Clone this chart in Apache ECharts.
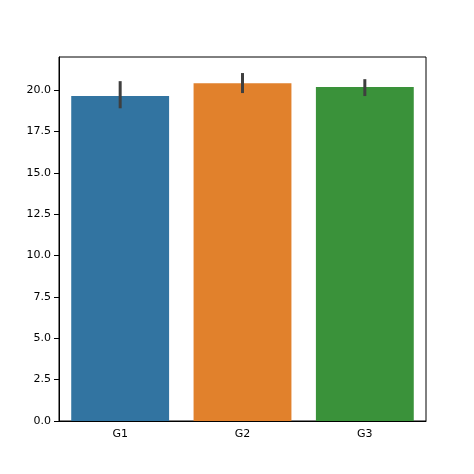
<!DOCTYPE html>
<html>
<head>
<meta charset="utf-8">
<script src="https://cdn.jsdelivr.net/npm/echarts@6/dist/echarts.min.js"></script>
<style>html,body{margin:0;padding:0;background:#fff}#main{width:474px;height:474px}</style>
</head>
<body>
<div id="main"></div>
<script>
var categories = ['G1', 'G2', 'G3'];
var means = [19.65, 20.42, 20.18];
var errLow = [18.9, 19.82, 19.64];
var errHigh = [20.54, 21.03, 20.66];
var colors = ['#3274a1', '#e1812c', '#3a923a'];

var myChart = echarts.init(document.getElementById('main'));
var font = 'DejaVu Sans';
var option = {
  animation: false,
  grid: { left: 59, right: 48, top: 57, bottom: 53, show: true, borderColor: '#000', borderWidth: 1 },
  xAxis: {
    type: 'category', data: categories,
    axisLine: { lineStyle: { color: '#000' } },
    axisTick: { alignWithLabel: true, lineStyle: { color: '#000' } },
    axisLabel: { color: '#000', fontFamily: font, fontSize: 11 }
  },
  yAxis: {
    type: 'value', min: 0, max: 22, interval: 2.5,
    splitLine: { show: false },
    axisLine: { show: true, lineStyle: { color: '#000' } },
    axisTick: { show: true, lineStyle: { color: '#000' } },
    axisLabel: { color: '#000', fontFamily: font, fontSize: 11, showMaxLabel: false,
      formatter: function (v) { return v % 2.5 === 0 ? v.toFixed(1) : ''; } }
  },
  series: [{
    type: 'bar', barWidth: '80%',
    data: means.map(function (v, i) { return { value: v, itemStyle: { color: colors[i] } }; })
  }, {
    type: 'custom',
    data: categories.map(function (c, i) { return [i, errLow[i], errHigh[i]]; }),
    renderItem: function (params, api) {
      var a = api.coord([api.value(0), api.value(1)]);
      var b = api.coord([api.value(0), api.value(2)]);
      return { type: 'line', shape: { x1: a[0], y1: a[1], x2: b[0], y2: b[1] },
        style: { stroke: '#3f3f3f', lineWidth: 3 } };
    },
    z: 10
  }]
};
myChart.setOption(option);
</script>
</body>
</html>
